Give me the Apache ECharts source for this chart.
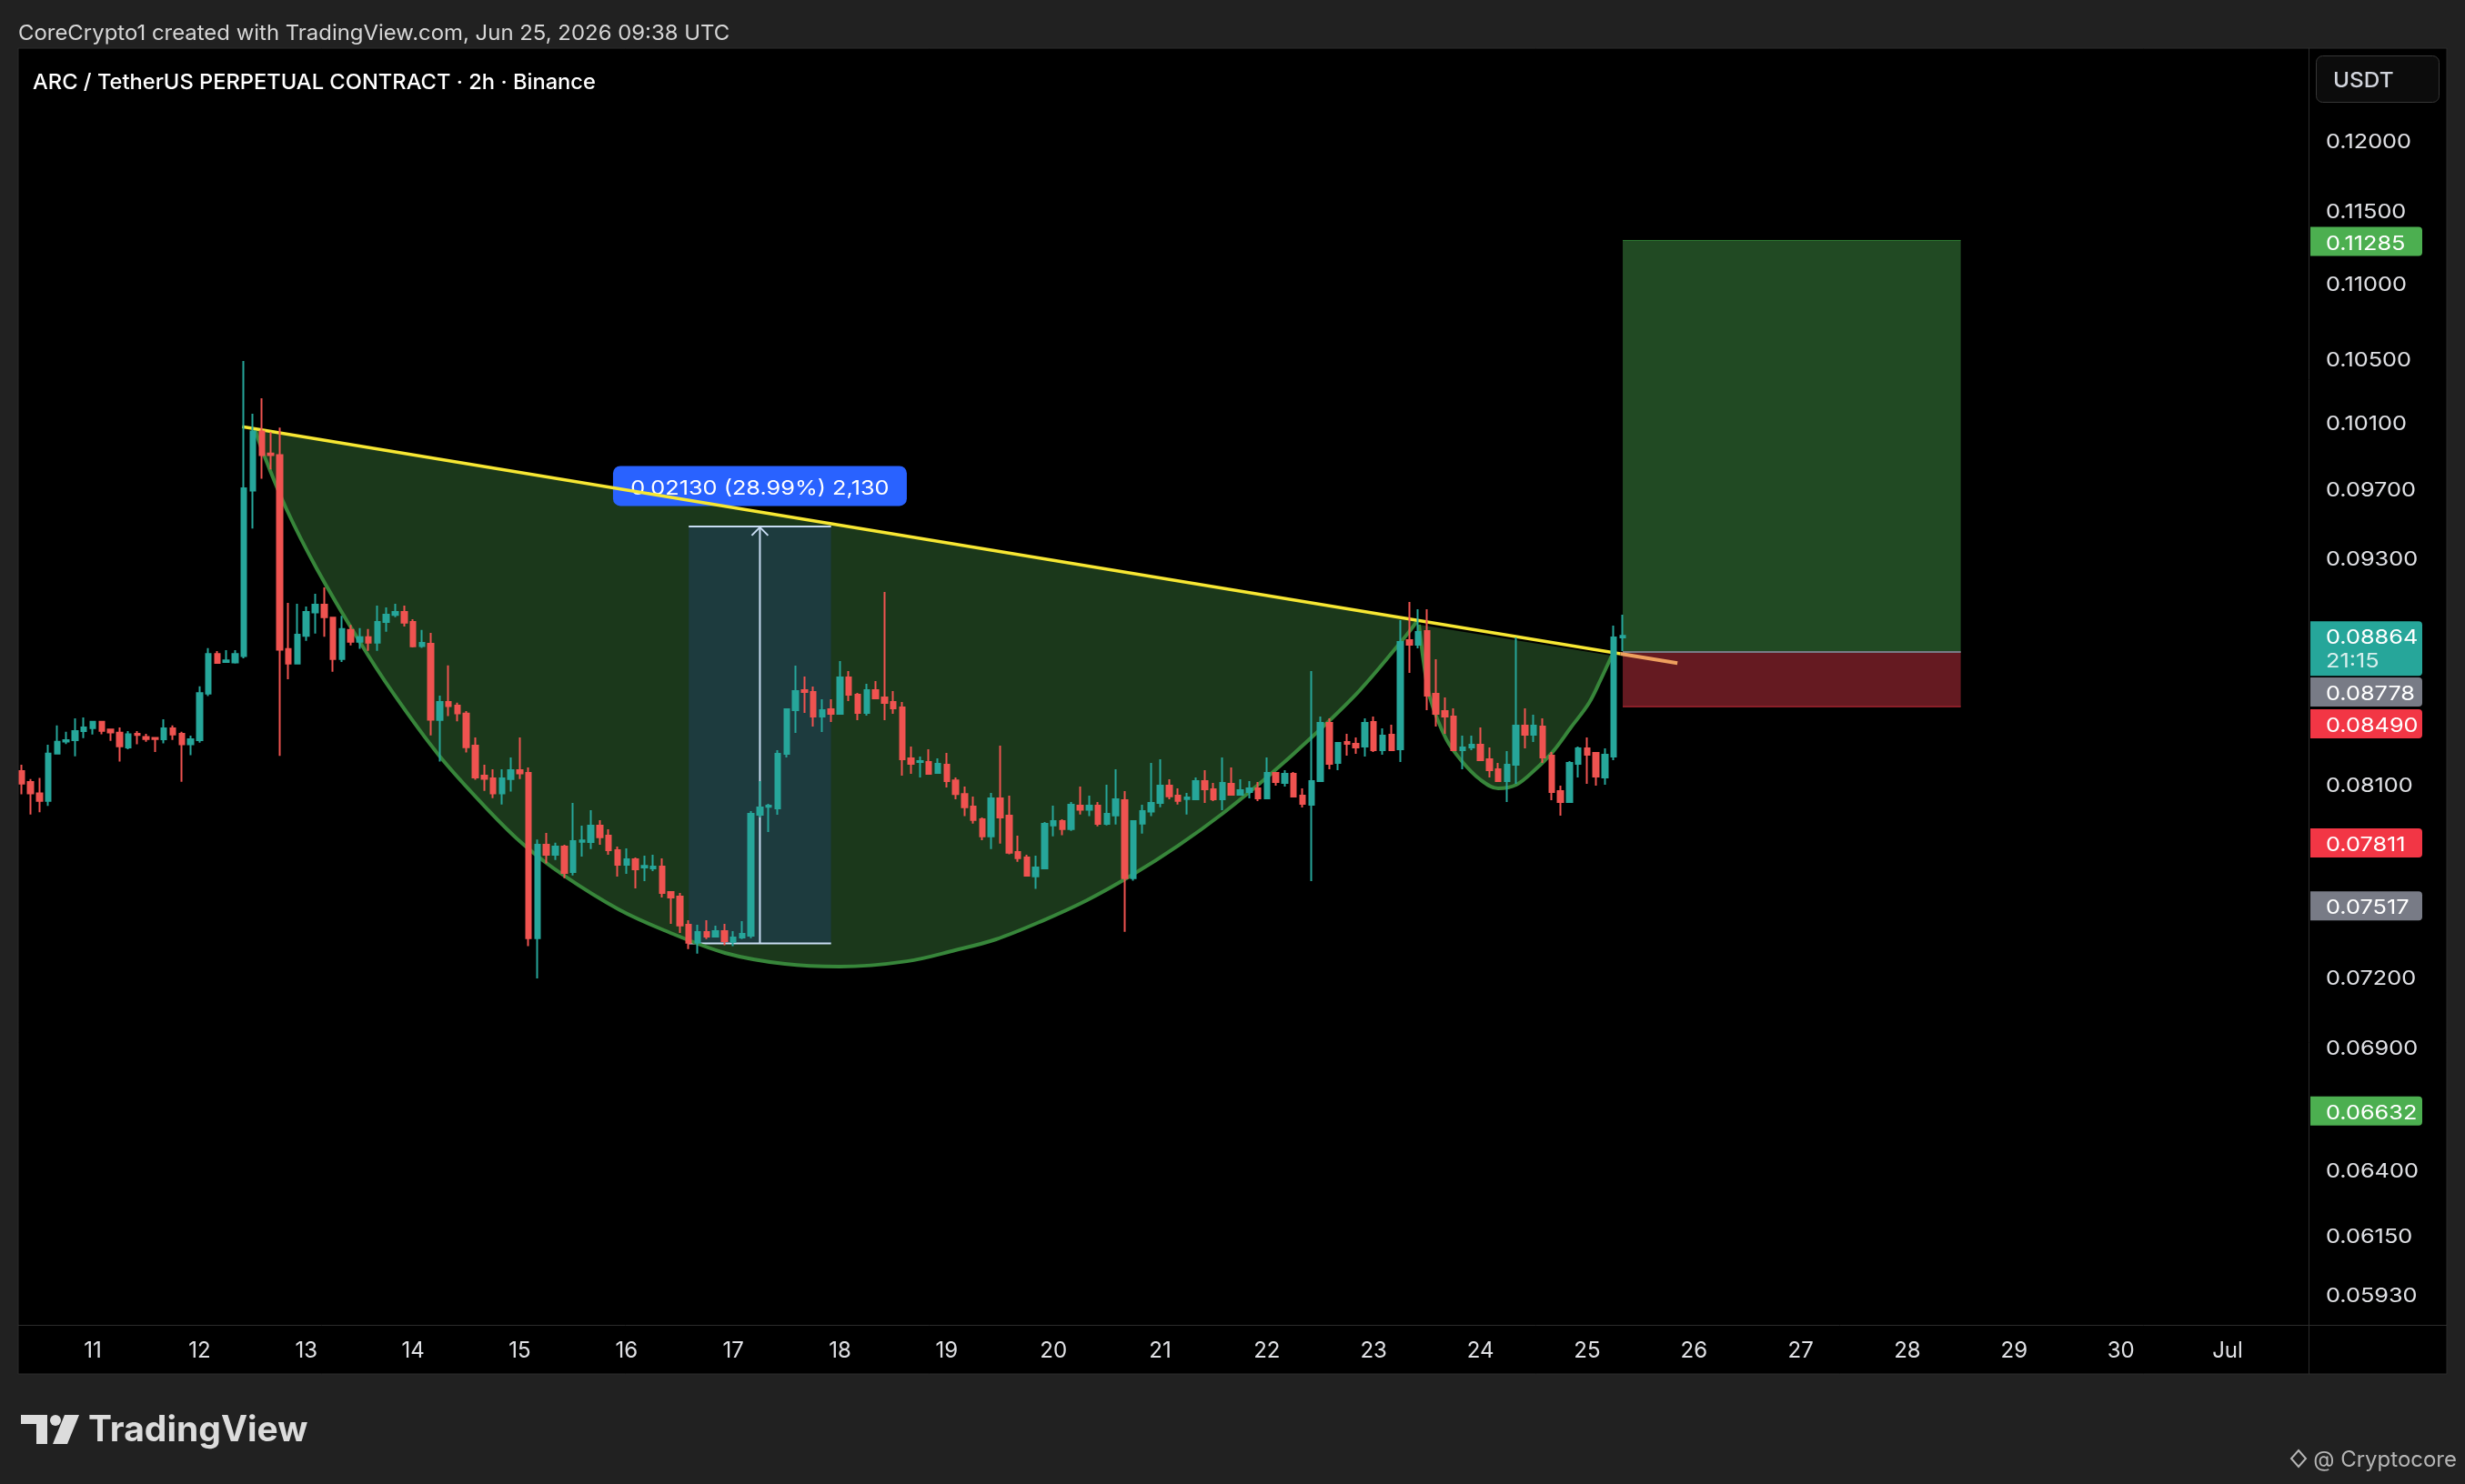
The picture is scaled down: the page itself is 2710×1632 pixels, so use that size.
<!DOCTYPE html>
<html>
<head>
<meta charset="utf-8">
<script src="https://cdn.jsdelivr.net/npm/echarts@6/dist/echarts.min.js"></script>
<style>
html,body{margin:0;padding:0;background:#212121;}
#chart{width:2710px;height:1632px;}
</style>
</head>
<body>
<div id="chart"></div>
<script>
// ---------------- DATA ----------------
// 2h candles, first candle opens Jun 10 08:00 UTC (hours counted from Jun 11 00:00 UTC)
const firstCandleHour = -16;
const candleStepHours = 2;

const open = [
0.08162,0.08108,0.08051,0.08015,0.08249,0.08310,0.08317,0.08363,0.08379,0.08411,
0.08372,0.08355,0.08280,0.08350,0.08334,0.08329,0.08322,0.08378,0.08350,0.08296,
0.08317,0.08557,0.08767,0.08724,0.08722,0.08756,0.09687,0.10042,0.09908,0.09899,
0.08793,0.08715,0.08865,0.08992,0.09035,0.08964,0.08740,0.08896,0.08833,0.08857,
0.08828,0.08940,0.08978,0.08995,0.08940,0.08809,0.08821,0.08421,0.08513,0.08495,
0.08453,0.08290,0.08139,0.08126,0.08051,0.08122,0.08166,0.08153,0.07370,0.07803,
0.07755,0.07794,0.07674,0.07817,0.07816,0.07894,0.07846,0.07777,0.07708,0.07734,
0.07695,0.07691,0.07700,0.07581,0.07560,0.07431,0.07350,0.07398,0.07377,0.07402,
0.07354,0.07373,0.07381,0.07947,0.07986,0.07978,0.08248,0.08471,0.08575,0.08566,
0.08438,0.08476,0.08452,0.08642,0.08551,0.08457,0.08575,0.08537,0.08514,0.08485,
0.08225,0.08207,0.08207,0.08153,0.08194,0.08115,0.08048,0.07987,0.07925,0.07843,
0.08027,0.07943,0.07768,0.07742,0.07654,0.07691,0.07895,0.07916,0.07878,0.07991,
0.07971,0.07991,0.07903,0.07944,0.08018,0.07645,0.07904,0.07962,0.08005,0.08090,
0.08040,0.08024,0.08022,0.08112,0.08072,0.08022,0.08099,0.08045,0.08058,0.08076,
0.08027,0.08153,0.08103,0.08148,0.08040,0.07996,0.08112,0.08406,0.08203,0.08308,
0.08299,0.08285,0.08410,0.08267,0.08345,0.08271,0.08841,0.08817,0.08890,0.08556,
0.08466,0.08438,0.08267,0.08280,0.08294,0.08221,0.08171,0.08112,0.08194,0.08391,
0.08345,0.08387,0.08239,0.08063,0.08009,0.08198,0.08276,0.08253,0.08130,0.08235,
0.08856];

const close = [
0.08100,0.08051,0.08015,0.08249,0.08309,0.08317,0.08363,0.08382,0.08411,0.08365,
0.08357,0.08286,0.08347,0.08344,0.08323,0.08323,0.08378,0.08346,0.08296,0.08322,
0.08560,0.08767,0.08719,0.08732,0.08767,0.09700,0.10042,0.09899,0.09899,0.08790,
0.08715,0.08870,0.08995,0.09035,0.08966,0.08740,0.08901,0.08833,0.08857,0.08828,
0.08940,0.08980,0.08995,0.08936,0.08808,0.08826,0.08422,0.08513,0.08492,0.08455,
0.08282,0.08130,0.08123,0.08051,0.08126,0.08166,0.08150,0.07370,0.07803,0.07755,
0.07794,0.07670,0.07820,0.07823,0.07894,0.07839,0.07777,0.07708,0.07734,0.07687,
0.07703,0.07700,0.07577,0.07556,0.07428,0.07350,0.07398,0.07377,0.07402,0.07357,
0.07373,0.07390,0.07952,0.07983,0.07991,0.08248,0.08476,0.08570,0.08566,0.08438,
0.08471,0.08452,0.08642,0.08551,0.08457,0.08575,0.08533,0.08509,0.08481,0.08221,
0.08198,0.08212,0.08148,0.08198,0.08112,0.08048,0.07984,0.07922,0.07843,0.08027,
0.07934,0.07765,0.07739,0.07657,0.07695,0.07903,0.07916,0.07878,0.07996,0.07971,
0.07991,0.07903,0.07952,0.08022,0.07645,0.07916,0.07965,0.08005,0.08090,0.08037,
0.08015,0.08031,0.08112,0.08072,0.08022,0.08103,0.08045,0.08067,0.08076,0.08027,
0.08153,0.08108,0.08148,0.08036,0.08000,0.08112,0.08406,0.08198,0.08303,0.08299,
0.08280,0.08406,0.08267,0.08340,0.08267,0.08831,0.08817,0.08886,0.08547,0.08452,
0.08438,0.08267,0.08280,0.08294,0.08216,0.08166,0.08112,0.08194,0.08391,0.08345,
0.08391,0.08230,0.08058,0.08009,0.08203,0.08276,0.08244,0.08135,0.08244,0.08856,
0.08864];

const low = [
0.08047,0.07948,0.07959,0.07990,0.08245,0.08298,0.08236,0.08328,0.08346,0.08347,
0.08314,0.08209,0.08271,0.08296,0.08309,0.08258,0.08301,0.08318,0.08109,0.08241,
0.08305,0.08544,0.08715,0.08721,0.08715,0.08744,0.09465,0.09757,0.09813,0.08238,
0.08633,0.08712,0.08838,0.08877,0.08860,0.08672,0.08724,0.08813,0.08794,0.08784,
0.08784,0.08887,0.08966,0.08915,0.08802,0.08799,0.08342,0.08209,0.08440,0.08414,
0.08255,0.08119,0.08064,0.08028,0.07997,0.08060,0.08122,0.07334,0.07191,0.07715,
0.07731,0.07645,0.07658,0.07747,0.07782,0.07803,0.07755,0.07653,0.07665,0.07598,
0.07631,0.07678,0.07556,0.07435,0.07394,0.07321,0.07301,0.07366,0.07374,0.07338,
0.07334,0.07366,0.07370,0.07934,0.07864,0.07947,0.08230,0.08354,0.08457,0.08387,
0.08359,0.08410,0.08450,0.08518,0.08420,0.08443,0.08530,0.08420,0.08452,0.08139,
0.08148,0.08130,0.08146,0.08148,0.08081,0.08022,0.07940,0.07904,0.07825,0.07782,
0.07808,0.07757,0.07722,0.07654,0.07595,0.07689,0.07843,0.07848,0.07869,0.07948,
0.07940,0.07891,0.07895,0.07900,0.07399,0.07633,0.07856,0.07940,0.07984,0.08022,
0.07997,0.07948,0.08018,0.08005,0.08014,0.07969,0.08043,0.08043,0.08027,0.08014,
0.08025,0.08090,0.08085,0.08034,0.07983,0.07631,0.08108,0.08171,0.08166,0.08239,
0.08248,0.08235,0.08258,0.08244,0.08265,0.08207,0.08666,0.08797,0.08471,0.08387,
0.08350,0.08265,0.08171,0.08267,0.08214,0.08130,0.08110,0.08009,0.08099,0.08276,
0.08308,0.08203,0.08018,0.07943,0.08007,0.08130,0.08099,0.08090,0.08094,0.08216,
0.08782];

const high = [
0.08194,0.08122,0.08128,0.08294,0.08393,0.08360,0.08429,0.08434,0.08414,0.08413,
0.08374,0.08382,0.08363,0.08363,0.08350,0.08334,0.08424,0.08393,0.08360,0.08340,
0.08595,0.08798,0.08782,0.08787,0.08787,0.10484,0.10152,0.10248,0.10039,0.10067,
0.09045,0.09040,0.09024,0.09095,0.09130,0.08969,0.08974,0.08924,0.08906,0.08901,
0.09029,0.09019,0.09040,0.09029,0.08955,0.08896,0.08880,0.08547,0.08706,0.08510,
0.08466,0.08331,0.08194,0.08171,0.08171,0.08230,0.08331,0.08180,0.07828,0.07859,
0.07812,0.07803,0.08005,0.07894,0.07969,0.07921,0.07877,0.07794,0.07786,0.07742,
0.07751,0.07755,0.07738,0.07583,0.07577,0.07451,0.07431,0.07451,0.07427,0.07435,
0.07402,0.07447,0.07965,0.08112,0.08000,0.08267,0.08481,0.08705,0.08647,0.08594,
0.08528,0.08528,0.08729,0.08676,0.08561,0.08609,0.08623,0.09105,0.08570,0.08514,
0.08285,0.08235,0.08271,0.08225,0.08253,0.08130,0.08085,0.08036,0.07934,0.08054,
0.08290,0.08040,0.07846,0.07755,0.07751,0.07912,0.07991,0.07925,0.08009,0.08085,
0.08040,0.08009,0.08094,0.08171,0.08063,0.07921,0.07996,0.08203,0.08221,0.08121,
0.08076,0.08054,0.08130,0.08166,0.08103,0.08230,0.08180,0.08121,0.08112,0.08108,
0.08230,0.08157,0.08166,0.08157,0.08076,0.08676,0.08438,0.08429,0.08305,0.08350,
0.08331,0.08429,0.08438,0.08378,0.08396,0.08950,0.09050,0.09010,0.09010,0.08739,
0.08537,0.08481,0.08340,0.08340,0.08382,0.08280,0.08203,0.08262,0.08856,0.08481,
0.08448,0.08429,0.08258,0.08090,0.08212,0.08285,0.08331,0.08258,0.08276,0.08920,
0.08980];

// time axis tick labels (one per day from Jun 11)
const dayLabels = ['11','12','13','14','15','16','17','18','19','20','21','22','23','24','25','26','27','28','29','30','Jul'];

// price scale tick labels
const priceTicks = [0.12, 0.115, 0.11, 0.105, 0.101, 0.097, 0.093, 0.081, 0.072, 0.069, 0.064, 0.0615, 0.0593];

// price scale badges
const badgePrices = [0.11285, 0.08864, 0.08778, 0.08490, 0.07811, 0.07517, 0.06632];
const badgeSubText = ['', '21:15', '', '', '', '', ''];

// drawings (time in hours after Jun 11 00:00 UTC)
const trendTimes = [33.6, 343.5];
const trendPrices = [0.10072, 0.08768];
const trendExtTimes = [343.5, 356.3];
const trendExtPrices = [0.08768, 0.08718];

const cupTimes = [36.4, 38.45, 43.56, 50.31, 59.92, 67.49, 77.72, 88.56, 97.15, 105.94, 118.21, 128.44, 142.14, 155.64, 167.91, 183.04, 193.88, 203.08, 213.31, 223.54, 233.76, 243.99, 254.21, 264.44, 274.67, 284.89, 295.12, 297.78];
const cupPrices = [0.10062, 0.09902, 0.09577, 0.09238, 0.08836, 0.08561, 0.08244, 0.07978, 0.07798, 0.07657, 0.07501, 0.07406, 0.07304, 0.07255, 0.07243, 0.07267, 0.07316, 0.07365, 0.07447, 0.07543, 0.07661, 0.07798, 0.07956, 0.08139, 0.08345, 0.08575, 0.08861, 0.08945];

const handleTimes = [298.19, 299.21, 300.64, 304.32, 307.80, 311.89, 315.98, 320.07, 324.16, 328.25, 332.34, 336.43, 339.09, 341.54];
const handlePrices = [0.08925, 0.08729, 0.08537, 0.08322, 0.08212, 0.08121, 0.08076, 0.08094, 0.08166, 0.08258, 0.08382, 0.08509, 0.08633, 0.08758];

const rangeTimes = [134, 166];
const rangePrices = [0.07347, 0.09477];
const rangeLabel = '0.02130 (28.99%) 2,130';

const positionTimes = [344, 420];
const positionTarget = 0.11285;
const positionEntry = 0.08778;
const positionStop = 0.08490;

// ---------------- STYLE ----------------
const FONT = 'Inter, "Noto Sans", "DejaVu Sans", sans-serif';
const UP = '#26a69a', DOWN = '#ef5350';
const TEXT = '#e0e1e5';
const CUP_FILL = '#1b381b';
const CUP_LINE = '#37863a';
const RANGE_FILL = '#1d3b3e';
const RANGE_LINE = '#c8dcf2';
const PROFIT = '#214a23';
const LOSS = '#651a21';
const NUM_SX = 1.15;   // horizontal stretch of numeric labels
const TXT_DY = 2.5;    // optical centring of digits
const badgeColors = ['#4caf50', '#26a69a', '#787b86', '#f23645', '#f23645', '#787b86', '#4caf50'];
const badgeShift = [1, 0, 44, 19, 0, 0, 0];

const HOUR = 3600e3, DAY = 86400e3;
const t0 = Date.UTC(2026, 5, 11);
const ms = h => t0 + h * HOUR;
const xMinHour = -16.77, xMaxHour = 498.2;

const candleData = open.map((o, i) => [ms(firstCandleHour + i * candleStepHours), o, close[i], low[i], high[i]]);

function renderDrawings(params, api) {
  const P = (h, p) => api.coord([ms(h), p]);
  const ch = [];
  ch.push({ type: 'polygon', shape: { points: cupTimes.map((h, k) => P(h, cupPrices[k])) }, style: { fill: CUP_FILL } });
  ch.push({ type: 'polygon', shape: { points: handleTimes.map((h, k) => P(h, handlePrices[k])) }, style: { fill: CUP_FILL } });
  // price range tool
  const a = P(rangeTimes[0], rangePrices[1]);
  const b = P(rangeTimes[1], rangePrices[0]);
  ch.push({ type: 'rect', shape: { x: a[0], y: a[1], width: b[0] - a[0], height: b[1] - a[1] }, style: { fill: RANGE_FILL } });
  ch.push({ type: 'line', shape: { x1: a[0], y1: a[1], x2: b[0], y2: a[1] }, style: { stroke: RANGE_LINE, lineWidth: 2 } });
  ch.push({ type: 'line', shape: { x1: a[0], y1: b[1], x2: b[0], y2: b[1] }, style: { stroke: RANGE_LINE, lineWidth: 2 } });
  const mid = (a[0] + b[0]) / 2;
  ch.push({ type: 'line', shape: { x1: mid, y1: b[1], x2: mid, y2: a[1] }, style: { stroke: RANGE_LINE, lineWidth: 2 } });
  ch.push({ type: 'polyline', shape: { points: [[mid - 9, a[1] + 10], [mid, a[1] + 1], [mid + 9, a[1] + 10]] }, style: { stroke: RANGE_LINE, lineWidth: 2, fill: null } });
  ch.push({ type: 'rect', shape: { x: mid - 161.5, y: a[1] - 66.5, width: 323, height: 44, r: 8 }, style: { fill: '#2962ff' } });
  ch.push({ type: 'text', x: mid, y: a[1] - 44.5 + TXT_DY, scaleX: NUM_SX, style: { text: rangeLabel, fill: '#ffffff', font: '22px ' + FONT, align: 'center', verticalAlign: 'middle' } });
  // long position tool
  const p0 = P(positionTimes[0], positionTarget);
  const p1 = P(positionTimes[1], positionEntry);
  const p2 = P(positionTimes[1], positionStop);
  ch.push({ type: 'rect', shape: { x: p0[0], y: p0[1], width: p1[0] - p0[0], height: p1[1] - p0[1] }, style: { fill: PROFIT } });
  ch.push({ type: 'rect', shape: { x: p0[0], y: p1[1], width: p1[0] - p0[0], height: p2[1] - p1[1] }, style: { fill: LOSS } });
  ch.push({ type: 'line', shape: { x1: p0[0], y1: p0[1], x2: p1[0], y2: p0[1] }, style: { stroke: '#2f7d33', lineWidth: 1 } });
  ch.push({ type: 'line', shape: { x1: p0[0], y1: p2[1], x2: p1[0], y2: p2[1] }, style: { stroke: '#8a1f28', lineWidth: 2 } });
  ch.push({ type: 'line', shape: { x1: p0[0], y1: p1[1], x2: p1[0], y2: p1[1] }, style: { stroke: '#787b86', lineWidth: 2 } });
  return { type: 'group', children: ch };
}

function renderTickLabel(params, api) {
  const pt = api.coord([ms(xMaxHour), api.value(1)]);
  return { type: 'text', x: pt[0] + 19, y: pt[1] + TXT_DY, scaleX: NUM_SX, style: { text: api.value(1).toFixed(5), fill: TEXT, font: '22px ' + FONT, align: 'left', verticalAlign: 'middle' } };
}

function renderBadge(params, api) {
  const i = params.dataIndex;
  const pt = api.coord([ms(xMaxHour), api.value(1)]);
  const y = pt[1] + badgeShift[i];
  const sub = badgeSubText[i];
  const h = sub ? 60 : 32;
  const children = [
    { type: 'rect', shape: { x: pt[0] + 2, y: y - 16, width: 123, height: h, r: [0, 4, 4, 0] }, style: { fill: badgeColors[i] } },
    { type: 'text', x: pt[0] + 19, y: y + TXT_DY, scaleX: NUM_SX, style: { text: api.value(1).toFixed(5), fill: '#ffffff', font: '22px ' + FONT, align: 'left', verticalAlign: 'middle' } }
  ];
  if (sub) children.push({ type: 'text', x: pt[0] + 19, y: y + 26 + TXT_DY, scaleX: NUM_SX, style: { text: sub, fill: 'rgba(255,255,255,0.82)', font: '22px ' + FONT, align: 'left', verticalAlign: 'middle' } });
  return { type: 'group', children };
}

const chart = echarts.init(document.getElementById('chart'), null, { renderer: 'canvas', width: 2710, height: 1632 });

const option = {
  backgroundColor: '#212121',
  animation: false,
  textStyle: { fontFamily: FONT },
  grid: { left: 20, top: 53, width: 2518, height: 1404, containLabel: false },
  xAxis: {
    type: 'value',
    min: ms(xMinHour),
    max: ms(xMaxHour),
    axisLine: { show: false },
    axisTick: { show: false },
    splitLine: { show: false },
    axisLabel: {
      customValues: dayLabels.map((_, k) => t0 + k * DAY),
      formatter: v => dayLabels[Math.round((v - t0) / DAY)],
      color: TEXT, fontSize: 24, margin: 17, fontFamily: FONT
    }
  },
  yAxis: {
    type: 'log', logBase: 10, min: 0.0582005, max: 0.126908, position: 'right',
    axisLine: { show: false }, axisTick: { show: false }, axisLabel: { show: false }, splitLine: { show: false }
  },
  series: [
    { type: 'custom', name: 'drawings', z: 1, silent: true, clip: true, data: [[ms(150), 0.08]], encode: { x: 0, y: 1 }, renderItem: renderDrawings },
    { type: 'line', name: 'cup', z: 2, silent: true, smooth: 0.35, symbol: 'none', data: cupTimes.map((h, k) => [ms(h), cupPrices[k]]), lineStyle: { color: CUP_LINE, width: 4 } },
    { type: 'line', name: 'handle', z: 2, silent: true, smooth: 0.35, symbol: 'none', data: handleTimes.map((h, k) => [ms(h), handlePrices[k]]), lineStyle: { color: CUP_LINE, width: 4 } },
    { type: 'line', name: 'trend', z: 3, silent: true, symbol: 'none', data: trendTimes.map((h, k) => [ms(h), trendPrices[k]]), lineStyle: { color: '#f7e733', width: 3.5 } },
    { type: 'line', name: 'trendExt', z: 3, silent: true, symbol: 'none', data: trendExtTimes.map((h, k) => [ms(h), trendExtPrices[k]]), lineStyle: { color: '#ee9f5e', width: 4 } },
    {
      type: 'candlestick', name: 'ARCUSDT.P', z: 5, silent: true, barWidth: 6, data: candleData,
      itemStyle: { color: UP, color0: DOWN, borderColor: UP, borderColor0: DOWN, borderWidth: 2 }
    },
    { type: 'custom', name: 'ticks', z: 10, silent: true, clip: false, data: priceTicks.map(v => [ms(0), v]), encode: { x: 0, y: 1 }, renderItem: renderTickLabel },
    { type: 'custom', name: 'badges', z: 11, silent: true, clip: false, data: badgePrices.map(v => [ms(0), v]), encode: { x: 0, y: 1 }, renderItem: renderBadge }
  ],
  graphic: { elements: [
    { type: 'rect', z: -10, silent: true, shape: { x: 20, y: 53, width: 2670, height: 1458 }, style: { fill: '#000000', stroke: '#2c2c2c', lineWidth: 1 } },
    { type: 'line', z: 0, silent: true, shape: { x1: 2538.5, y1: 53, x2: 2538.5, y2: 1511 }, style: { stroke: '#2c2c2c', lineWidth: 1 } },
    { type: 'line', z: 0, silent: true, shape: { x1: 20, y1: 1457.5, x2: 2690, y2: 1457.5 }, style: { stroke: '#2c2c2c', lineWidth: 1 } },
    { type: 'text', silent: true, x: 20, y: 37, scaleX: 1.04, style: { text: 'CoreCrypto1 created with TradingView.com, Jun 25, 2026 09:38 UTC', fill: '#d6d6d6', font: '23px ' + FONT, align: 'left', verticalAlign: 'middle' } },
    { type: 'text', silent: true, x: 36, y: 91, scaleX: 1.03, style: { text: 'ARC / TetherUS PERPETUAL CONTRACT · 2h · Binance', fill: '#ffffff', font: '500 23px ' + FONT, align: 'left', verticalAlign: 'middle' } },
    { type: 'rect', silent: true, shape: { x: 2546.5, y: 61.5, width: 135, height: 51, r: 7 }, style: { fill: '#0c0c0c', stroke: '#363636', lineWidth: 1 } },
    { type: 'text', silent: true, x: 2565, y: 89, scaleX: 1.06, style: { text: 'USDT', fill: '#d1d4dc', font: '500 23px ' + FONT, align: 'left', verticalAlign: 'middle' } },
    { type: 'rect', silent: true, shape: { x: 23, y: 1556, width: 29, height: 10 }, style: { fill: '#dcdcdc' } },
    { type: 'rect', silent: true, shape: { x: 40, y: 1556, width: 12, height: 32 }, style: { fill: '#dcdcdc' } },
    { type: 'circle', silent: true, shape: { cx: 61, cy: 1562, r: 6 }, style: { fill: '#dcdcdc' } },
    { type: 'polygon', silent: true, shape: { points: [[71, 1556], [87, 1556], [74, 1588], [58, 1588]] }, style: { fill: '#dcdcdc' } },
    { type: 'text', silent: true, x: 97, y: 1573, style: { text: 'TradingView', fill: '#dcdcdc', font: 'bold 39px ' + FONT, align: 'left', verticalAlign: 'middle' } },
    { type: 'polygon', silent: true, shape: { points: [[2527, 1595], [2535, 1604], [2527, 1613], [2519, 1604]] }, style: { fill: 'none', stroke: '#b5b5b5', lineWidth: 2 } },
    { type: 'text', silent: true, x: 2701, y: 1606, style: { text: '@ Cryptocore', fill: '#b5b5b5', font: '24px ' + FONT, align: 'right', verticalAlign: 'middle' } }
  ] }
};

chart.setOption(option);
</script>
</body>
</html>
